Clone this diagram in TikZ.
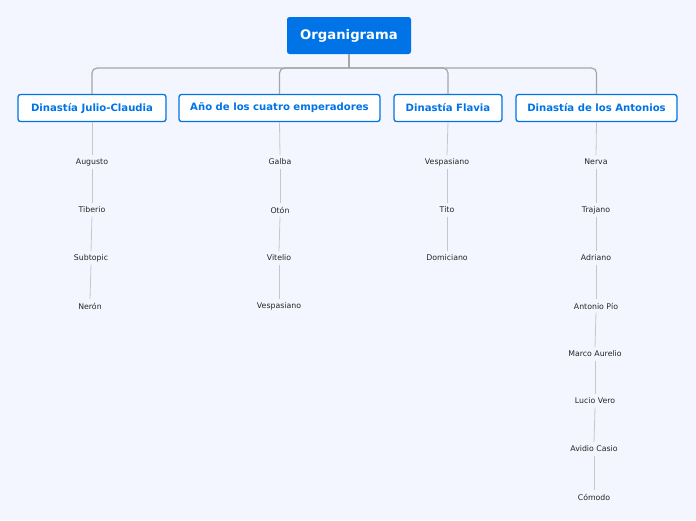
\documentclass[tikz,border=0pt]{standalone}
\usepackage{fontspec}
\setmainfont{DejaVu Sans}
\begin{document}
\begin{tikzpicture}[x=1pt,y=-1pt,
  root/.style={fill=rootblue,text=white,rounded corners=2.5pt,minimum width=124pt,minimum height=37pt,font=\fontsize{13.2}{15}\selectfont\bfseries,inner sep=0pt},
  cat/.style={draw=rootblue,line width=1.3pt,fill=white,text=rootblue,rounded corners=2.5pt,minimum height=27pt,font=\fontsize{10.1}{12}\selectfont\bfseries,inner sep=0pt},
  leaf/.style={font=\fontsize{7.8}{9}\selectfont,text=black!85,inner sep=2pt,minimum height=13pt},
  bus/.style={draw=black!35,line width=1.2pt,rounded corners=5pt},
  thin/.style={draw=black!22,line width=0.8pt}]
\definecolor{rootblue}{HTML}{0073E6}
\fill[fill={rgb,255:red,243;green,246;blue,254}] (0,0) rectangle (696,520);
\useasboundingbox (0,0) rectangle (696,520);
\node[root] (r) at (349,35.5) {Organigrama};
\node[cat,minimum width=148pt] (a) at (92,108) {Dinastía Julio-Claudia};
\node[cat,minimum width=201pt] (b) at (279.5,108) {Año de los cuatro emperadores};
\node[cat,minimum width=108pt] (c) at (448,108) {Dinastía Flavia};
\node[cat,minimum width=161pt] (d) at (596.5,108) {Dinastía de los Antonios};
\coordinate (j) at (349,68);
\draw[bus] (r.south) -- (j);
\foreach \n in {a,b,c,d}{\draw[bus] (j) -| (\n.north);}
% leaves
\node[leaf] (a1) at (92,162) {Augusto};
\node[leaf] (a2) at (92,210) {Tiberio};
\node[leaf] (a3) at (91,258) {Subtopic};
\node[leaf] (a4) at (90,306) {Nerón};
\node[leaf] (b1) at (280,162) {Galba};
\node[leaf] (b2) at (280,210) {Otón};
\node[leaf] (b3) at (279,258) {Vitelio};
\node[leaf] (b4) at (279,306) {Vespasiano};
\node[leaf] (c1) at (447,162) {Vespasiano};
\node[leaf] (c2) at (447,210) {Tito};
\node[leaf] (c3) at (447,258) {Domiciano};
\node[leaf] (d1) at (596,162) {Nerva};
\node[leaf] (d2) at (596,210) {Trajano};
\node[leaf] (d3) at (596,258) {Adriano};
\node[leaf] (d4) at (596,306) {Antonio Pío};
\node[leaf] (d5) at (595,354) {Marco Aurelio};
\node[leaf] (d6) at (595,401) {Lucio Vero};
\node[leaf] (d7) at (594,449) {Avidio Casio};
\node[leaf] (d8) at (594,497) {Cómodo};
\draw[thin] (a.south) -- (a1.north);
\draw[thin] (b.south) -- (b1.north);
\draw[thin] (c.south) -- (c1.north);
\draw[thin] (d.south) -- (d1.north);
\foreach \p/\q in {a1/a2,a2/a3,a3/a4,b1/b2,b2/b3,b3/b4,c1/c2,c2/c3,d1/d2,d2/d3,d3/d4,d4/d5,d5/d6,d6/d7,d7/d8}
  \draw[thin] (\p.south) -- (\q.north);
\end{tikzpicture}
\end{document}
